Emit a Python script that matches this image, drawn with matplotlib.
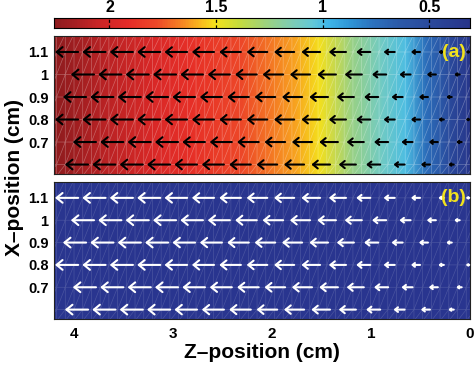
import numpy as np
import matplotlib
matplotlib.use("Agg")
import matplotlib.pyplot as plt
from matplotlib.colors import LinearSegmentedColormap
import matplotlib.tri as mtri

plt.rcParams['font.family'] = ['Liberation Sans', 'DejaVu Sans']
plt.rcParams['font.weight'] = 'bold'

# ---------------- data ----------------
# colour scale anchors (value -> colour)
cmap_values = [0.31, 0.50, 0.64, 0.76, 0.87, 0.97, 1.04, 1.15, 1.27, 1.39,
               1.50, 1.58, 1.67, 1.77, 1.91, 2.05, 2.16, 2.26]
cmap_colors = ['#27348a', '#2a4a9c', '#2b5aa8', '#2c72be', '#2f96d6', '#3fb6e8',
               '#62c8d8', '#80cdb0', '#9fd27a', '#c6dc3c', '#f4e21c', '#f9b31e',
               '#f57e24', '#ee4a28', '#e52b27', '#c82526', '#a51f22', '#8b1b1e']
cbar_ticks = [2, 1.5, 1, 0.5]
cbar_ticklabels = ['2', '1.5', '1', '0.5']

# background field of panel (a): value along Z
z_bg = [0.0, 0.2, 0.45, 0.65, 0.9, 1.2, 1.52, 1.75, 2.0, 2.3, 2.8, 3.2, 3.7, 4.2]
val_bg = [0.33, 0.50, 0.75, 1.0, 1.1, 1.25, 1.5, 1.6, 1.68, 1.78, 1.88, 1.97, 2.1, 2.25]

# vector field: rows (X position), first arrow tip Z, number of arrows
row_x = [1.1, 1.0, 0.9, 0.8, 0.7, 0.6]
row_z_start = [4.19, 4.03, 4.11, 4.19, 4.01, 4.09]
row_count = [16, 15, 15, 16, 15, 15]
arrow_spacing = 0.2765
# arrow magnitude (cm on plot) per column index, left to right
arrow_mag = [0.234, 0.234, 0.234, 0.233, 0.228, 0.223, 0.218, 0.208,
             0.203, 0.188, 0.173, 0.142, 0.112, 0.091, 0.055, 0.035]

x_ticks = [4, 3, 2, 1, 0]
y_ticks = [0.7, 0.8, 0.9, 1.0, 1.1]
y_ticklabels = ['0.7', '0.8', '0.9', '1', '1.1']
zlim = (4.2, 0.0)
xlim = (0.558, 1.171)

panel_b_color = '#29358f'
label_color = '#f2e21e'

# ---------------- figure ----------------
W, H = 474, 368
fig = plt.figure(figsize=(W / 100, H / 100), dpi=100)

cmap = LinearSegmentedColormap.from_list(
    'custom',
    [((v - cmap_values[0]) / (cmap_values[-1] - cmap_values[0]), c)
     for v, c in zip(cmap_values, cmap_colors)])
vmin, vmax = cmap_values[0], cmap_values[-1]

def fx(px):
    return px / W

def fy(py):
    return 1 - py / H

ax_cb = fig.add_axes([fx(54), fy(28), fx(470) - fx(54), fy(18) - fy(28)])
ax_a = fig.add_axes([fx(54), fy(174), fx(470) - fx(54), fy(36) - fy(174)])
ax_b = fig.add_axes([fx(54), fy(319), fx(470) - fx(54), fy(182) - fy(319)])

# colour bar
cb_vals = np.linspace(vmin, vmax, 256)
ax_cb.pcolormesh(cb_vals, [0, 1], cb_vals[:-1][np.newaxis, :],
                 cmap=cmap, vmin=vmin, vmax=vmax, shading='flat')
ax_cb.set_xlim(vmax, vmin)
ax_cb.set_ylim(0, 1)
ax_cb.set_yticks([])
ax_cb.set_xticks(cbar_ticks)
ax_cb.set_xticklabels(cbar_ticklabels)
ax_cb.xaxis.tick_top()
ax_cb.tick_params(axis='x', length=0, pad=2, labelsize=11.5)
for t in cbar_ticks:
    ax_cb.axvline(t, color='black', lw=0.9, ls=(0, (2.5, 2)))
for s in ax_cb.spines.values():
    s.set_linewidth(0.8)

# mesh (decorative triangulation lines)
mz = np.arange(-0.05, 4.3, 0.088)
mx = np.array([0.55, 0.6, 0.7, 0.8, 0.9, 1.0, 1.1, 1.18])
MZ, MX = np.meshgrid(mz, mx)
nz = len(mz)
tris = []
for j in range(len(mx) - 1):
    for i in range(nz - 1):
        a = j * nz + i
        b = j * nz + i + 1
        c = (j + 1) * nz + i
        d = (j + 1) * nz + i + 1
        tris.append([b, a, c])
        tris.append([b, c, d])
tri = mtri.Triangulation(MZ.ravel(), MX.ravel(), np.array(tris))


def draw_arrows(ax, color):
    ax.figure.canvas.draw()
    for xr, zs, n in zip(row_x, row_z_start, row_count):
        for k in range(n):
            ztip = zs - k * arrow_spacing
            mag = arrow_mag[k]
            ztail = ztip - mag
            p0 = ax.transData.transform((ztip, xr))
            p1 = ax.transData.transform((ztail, xr))
            length_pt = np.hypot(*(p1 - p0)) * 72 / fig.dpi
            ax.annotate('', xy=(ztip, xr), xytext=(ztail, xr),
                        arrowprops=dict(arrowstyle='->,head_length=0.34,head_width=0.28',
                                        color=color, lw=1.5,
                                        shrinkA=0, shrinkB=0,
                                        mutation_scale=0.75 * length_pt),
                        annotation_clip=False)


for ax in (ax_a, ax_b):
    ax.set_xlim(*zlim)
    ax.set_ylim(*xlim)
    ax.set_yticks(y_ticks)
    ax.set_yticklabels(y_ticklabels)
    ax.tick_params(length=0, labelsize=10.5, pad=4)
    for s in ax.spines.values():
        s.set_linewidth(0.8)
        s.set_color('#222222')

# panel (a) background
ax_a.pcolormesh(z_bg, [xlim[0] - 0.05, xlim[1] + 0.05],
                np.vstack([val_bg, val_bg]), cmap=cmap, vmin=vmin, vmax=vmax,
                shading='gouraud')
ax_a.triplot(tri, color='white', lw=0.5, alpha=0.3)
ax_a.set_xticks([])
ax_a.set_xlim(*zlim)
ax_a.set_ylim(*xlim)

# panel (b) background
ax_b.set_facecolor(panel_b_color)
ax_b.triplot(tri, color='white', lw=0.5, alpha=0.15)
ax_b.set_xticks(x_ticks)
ax_b.set_xticklabels([str(t) for t in x_ticks])
ax_b.tick_params(axis='x', labelsize=11, pad=6)
ax_b.set_xlim(*zlim)
ax_b.set_ylim(*xlim)

draw_arrows(ax_a, 'black')
draw_arrows(ax_b, 'white')

ax_a.text(0.99, 0.88, '(a)', transform=ax_a.transAxes, ha='right', va='center',
          color=label_color, fontsize=14, fontweight='bold')
ax_b.text(0.99, 0.89, '(b)', transform=ax_b.transAxes, ha='right', va='center',
          color=label_color, fontsize=14, fontweight='bold')

fig.text(fx(262), fy(353), 'Z\u2013position (cm)', ha='center', va='center',
         fontsize=15, fontweight='bold')
fig.text(fx(15), fy(178), 'X\u2013position (cm)', ha='center', va='center',
         rotation=90, fontsize=15, fontweight='bold')

fig.savefig('out.png', dpi=100)
